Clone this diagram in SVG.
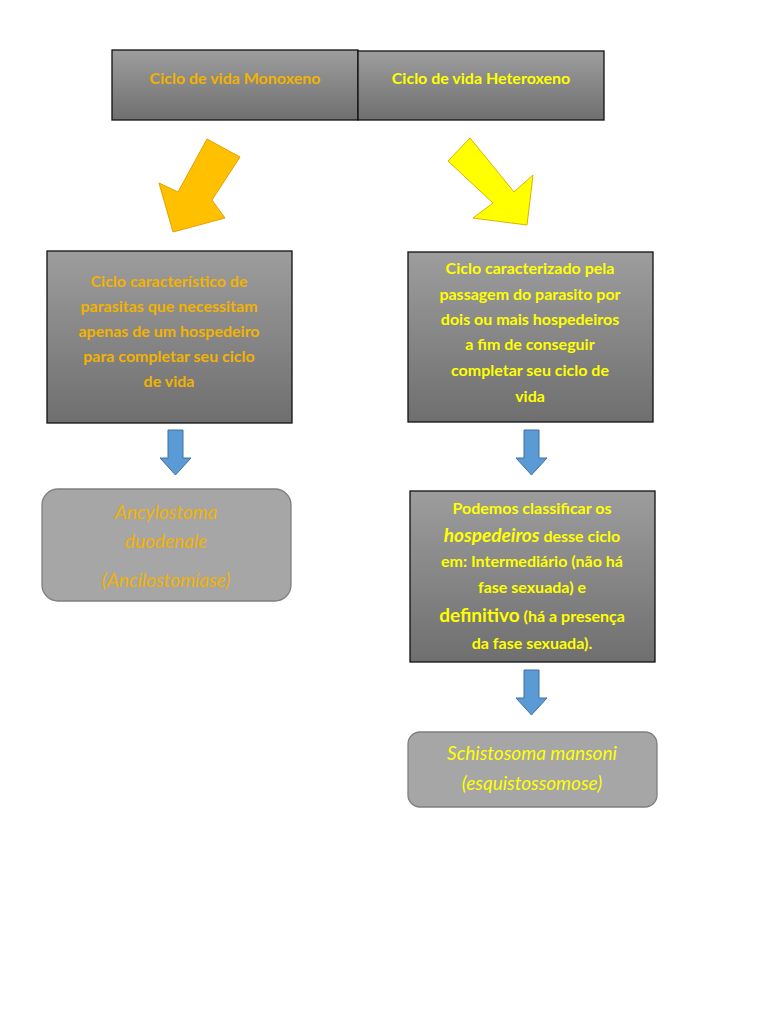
<svg xmlns="http://www.w3.org/2000/svg" width="768" height="1024" viewBox="0 0 768 1024">
<defs>
<linearGradient id="g" x1="0" y1="0" x2="0" y2="1"><stop offset="0" stop-color="#9d9d9d"/><stop offset="1" stop-color="#6f6f6f"/></linearGradient>
<style>
.box{fill:url(#g);stroke:#111;stroke-width:1.3}
.rbox{fill:#a6a6a6;stroke:#7f7f7f;stroke-width:1.3}
.t{font-family:Lato,"Open Sans",sans-serif;font-weight:bold;font-size:16px;text-anchor:middle}
.o{fill:#f2b200}.y{fill:#ffff00}
.it{font-family:Lato,"Open Sans",sans-serif;font-style:italic;font-size:19px;text-anchor:middle}
.blue{fill:#5b9bd5;stroke:#41719c;stroke-width:1}
</style>
</defs>
<rect width="768" height="1024" fill="#fff"/>
<g id="mono"><rect class="box" x="112" y="50" width="246" height="70"/><text class="t o" x="235" y="84">Ciclo de vida Monoxeno</text></g>
<g id="hetero"><rect class="box" x="358" y="51" width="246" height="69"/><text class="t y" x="481" y="84">Ciclo de vida Heteroxeno</text></g>
<g id="mono-desc"><rect class="box" x="47" y="251" width="245" height="172"/>
<text class="t o"><tspan x="169" y="287">Ciclo característico de</tspan><tspan x="169" y="312">parasitas que necessitam</tspan><tspan x="169" y="337">apenas de um hospedeiro</tspan><tspan x="169" y="362">para completar seu ciclo</tspan><tspan x="169" y="387">de vida</tspan></text></g>
<g id="hetero-desc"><rect class="box" x="408" y="252" width="245" height="170"/>
<text class="t y"><tspan x="530" y="274">Ciclo caracterizado pela</tspan><tspan x="530" y="300">passagem do parasito por</tspan><tspan x="530" y="325">dois ou mais hospedeiros</tspan><tspan x="530" y="350">a fim de conseguir</tspan><tspan x="530" y="376">completar seu ciclo de</tspan><tspan x="530" y="402">vida</tspan></text></g>
<g id="hosts"><rect class="box" x="410" y="491" width="245" height="171"/>
<text class="t y"><tspan x="532" y="514">Podemos classificar os</tspan><tspan x="532" y="542"><tspan font-style="italic" font-size="19">hospedeiros</tspan> desse ciclo</tspan><tspan x="532" y="567">em: Intermediário (não há</tspan><tspan x="532" y="593">fase sexuada) e</tspan><tspan x="532" y="622"><tspan font-size="19">definitivo</tspan> (há a presença</tspan><tspan x="532" y="649">da fase sexuada).</tspan></text></g>
<g id="ancylo"><rect class="rbox" x="42" y="489" width="249" height="112" rx="16"/>
<text class="it o"><tspan x="166" y="519">Ancylostoma</tspan><tspan x="166" y="548">duodenale</tspan><tspan x="166" y="587">(Ancilostomíase)</tspan></text></g>
<g id="schisto"><rect class="rbox" x="408" y="732" width="249" height="75" rx="12"/>
<text class="it y"><tspan x="532" y="760">Schistosoma mansoni</tspan><tspan x="532" y="790">(esquistossomose)</tspan></text></g>
<g id="connectors">
<polygon points="207,139 240,157 212,200 225,218 173,232 159,183 178,192" fill="#ffc000" stroke="#e6a000" stroke-width="1"/>
<polygon points="470,138 514,192 533,175 527,225 473,218 493,203 448,161" fill="#ffff00" stroke="#e0b000" stroke-width="1"/>
<polygon class="blue" points="168,430 183,430 183,458 191,458 175.5,475 160,458 168,458"/>
<polygon class="blue" points="524,430 539,430 539,458 547,458 531.5,475 516,458 524,458"/>
<polygon class="blue" points="524,670 539,670 539,698 547,698 531.5,715 516,698 524,698"/>
</g>
</svg>
